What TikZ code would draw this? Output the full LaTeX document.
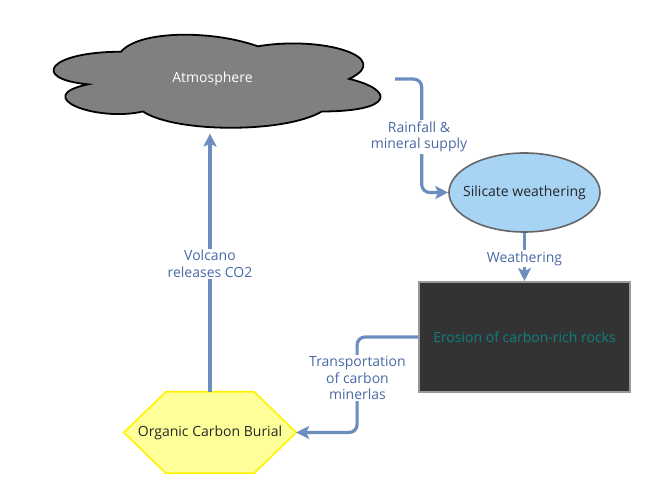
\documentclass[tikz,border=0pt]{standalone}
\usepackage{fontspec}
\setmainfont{Open Sans}
\usetikzlibrary{arrows.meta,calc,shapes.geometric}
\definecolor{flujo}{HTML}{6C8EBF}
\definecolor{etiq}{HTML}{4A6AA6}
\definecolor{nube}{HTML}{808080}
\definecolor{celeste}{HTML}{A7D3F5}
\definecolor{roca}{HTML}{333333}
\definecolor{verdeazul}{HTML}{0F7F7F}
\definecolor{amarillo}{HTML}{FFFF99}
\definecolor{amarilloborde}{HTML}{FFF200}
\begin{document}
\begin{tikzpicture}[x=1pt,y=-1pt,
  font=\fontsize{14}{16.5}\selectfont,
  flow/.style={flujo,line width=3.2pt,rounded corners=8pt,-{Stealth[length=13pt,width=13pt,inset=3pt]}},
  lbl/.style={fill=white,text=etiq,align=center,inner sep=1.5pt}]
\useasboundingbox (0,0) rectangle (657,494);
% nube (atmosfera)
\node[minimum width=365pt,minimum height=108.6pt,inner sep=0pt] (atm) at (212.5,79.1) {};
\begin{scope}[shift={(atm.north west)},x=365pt,y=-108.6pt]
\draw[fill=nube,line width=1.8pt] (0.25,0.25) .. controls (0.05,0.25) and (0,0.5) .. (0.16,0.55)
  .. controls (0,0.66) and (0.18,0.9) .. (0.31,0.8)
  .. controls (0.4,1) and (0.7,1) .. (0.8,0.8)
  .. controls (1,0.8) and (1,0.6) .. (0.875,0.5)
  .. controls (1,0.3) and (0.8,0.1) .. (0.625,0.2)
  .. controls (0.5,0.05) and (0.3,0.05) .. (0.25,0.25) -- cycle;
\end{scope}
\node[text=white] at (atm) {Atmosphere};
% meteorizacion
\node[ellipse,draw=black!60,fill=celeste,line width=1.6pt,minimum width=151pt,minimum height=79pt,
  inner xsep=-9pt,inner ysep=0pt,text=black!85] (silicate) at (524.5,192.5) {Silicate weathering};
% erosion
\node[draw=black!40,fill=roca,line width=2pt,minimum width=211pt,minimum height=110pt,
  inner sep=0pt,text=verdeazul] (erosion) at (524.5,337) {Erosion of carbon-rich rocks};
% hexagono
\node[minimum width=172pt,minimum height=81pt,inner sep=0pt] (burial) at (210,432.5) {};
\draw[fill=amarillo,draw=amarilloborde,line width=1.6pt] (burial.west) -- ($(burial.north west)+(42,0)$)
  -- ($(burial.north east)+(-42,0)$) -- (burial.east) -- ($(burial.south east)+(-42,0)$)
  -- ($(burial.south west)+(42,0)$) -- cycle;
\node[text=black!85] at (burial) {Organic Carbon Burial};
% flechas
\draw[flow] (atm.east) -| ($(atm.east)!.5!(silicate.west)$) |- (silicate.west);
\draw[flow] (silicate.south) -- (erosion.north);
\draw[flow] (erosion.west) -| ($(erosion.west)!.5!(burial.east)$) |- (burial.east);
\draw[flow] (burial.north) -- (burial.north |- atm.south);
% etiquetas
\node[lbl] at (419,137) {Rainfall \&\\mineral supply};
\node[lbl] at (524.5,259) {Weathering};
\node[lbl] at (357.5,378) {Transportation\\of carbon\\minerlas};
\node[lbl] at (210,264) {Volcano\\releases CO2};
\end{tikzpicture}
\end{document}
